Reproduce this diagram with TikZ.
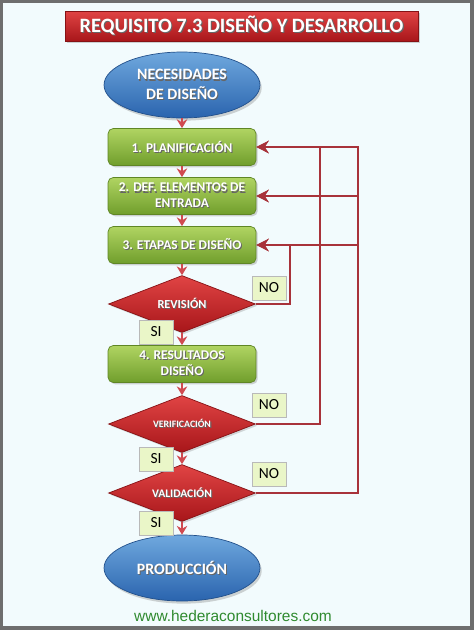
\documentclass[tikz,border=0pt]{standalone}
\usepackage{fontspec}
\setmainfont{Carlito}
\newfontfamily\webfont{Liberation Sans}
\usetikzlibrary{shapes.geometric,arrows.meta,shadows}

\definecolor{bgcyan}{HTML}{F2FBFD}
\definecolor{framegray}{HTML}{6E6E6E}
\definecolor{loopred}{HTML}{A8323A}
\definecolor{flowred}{HTML}{D04A50}
\definecolor{greenL}{HTML}{B0D462}
\definecolor{greenD}{HTML}{709E2C}
\definecolor{blueL}{HTML}{6FA8DE}
\definecolor{blueD}{HTML}{2A64AE}
\definecolor{redL}{HTML}{E04444}
\definecolor{redD}{HTML}{A8161A}
\definecolor{answerfill}{HTML}{EAF6C8}
\definecolor{webgreen}{HTML}{2F8A2F}

% white text with a soft shadow
\newcommand{\shtext}[1]{\makebox[0pt][l]{\hspace{0.6pt}\raisebox{-0.6pt}{\textcolor{black!60}{#1}}}#1}

\begin{document}
\begin{tikzpicture}[x=0.02cm,y=-0.02cm,
  stepbox/.style={rectangle,rounded corners=3pt,minimum width=2.96cm,minimum height=0.74cm,
    inner sep=0pt,top color=greenL,bottom color=greenD,draw=greenD!85!black,text=white,
    align=center,font=\bfseries\fontsize{7.6}{9}\selectfont,
    drop shadow={opacity=0.35,shadow xshift=1pt,shadow yshift=-1pt}},
  endbox/.style={ellipse,minimum width=3.12cm,minimum height=1.32cm,inner sep=0pt,
    top color=blueL,bottom color=blueD,draw=blueD!80!black,text=white,align=center,
    font=\bfseries\fontsize{9}{11}\selectfont,
    drop shadow={opacity=0.35,shadow xshift=1pt,shadow yshift=-1.5pt}},
  checkbox/.style={diamond,aspect=2.58,minimum width=2.94cm,minimum height=1.14cm,inner sep=0pt,
    top color=redL,bottom color=redD,draw=redD!80!black,text=white,
    drop shadow={opacity=0.3,shadow xshift=1pt,shadow yshift=-1pt}},
  answer/.style={rectangle,minimum width=0.68cm,minimum height=0.48cm,inner sep=0pt,
    fill=answerfill,draw=gray!55,font=\fontsize{8.8}{10}\selectfont},
  flow/.style={flowred,line width=1pt,-{Stealth[length=5pt,width=6pt]}},
  loop/.style={loopred,line width=1.4pt,-{Stealth[length=7pt,width=7pt]}}]

\useasboundingbox (0,0) rectangle (474,630);
\fill[framegray] (0,0) rectangle (474,630);
\fill[bgcyan] (3,3) rectangle (470,626);

% title
\node (title) at (241.5,26) [rectangle,minimum width=7.06cm,minimum height=0.6cm,inner sep=0pt,
  top color=redL,bottom color=redD,draw=redD!80!black,text=white,
  font=\bfseries\fontsize{11.6}{13}\selectfont,
  drop shadow={opacity=0.35,shadow xshift=1pt,shadow yshift=-1pt}]
  {\shtext{REQUISITO 7.3 DISEÑO Y DESARROLLO}};

% flow
\node (need) at (182,85) [endbox] {\shtext{NECESIDADES}\\\shtext{DE DISEÑO}};
\node (plan) at (182,147) [stepbox] {\shtext{1. PLANIFICACIÓN}};
\node (input) at (182,196) [stepbox] {\shtext{2. DEF. ELEMENTOS DE}\\\shtext{ENTRADA}};
\node (stages) at (182,245) [stepbox] {\shtext{3. ETAPAS DE DISEÑO}};
\node (review) at (182,304) [checkbox,font=\bfseries\fontsize{7}{8}\selectfont] {\shtext{REVISIÓN}};
\node (result) at (182,364) [stepbox] {\shtext{4. RESULTADOS}\\\shtext{DISEÑO}};
\node (verify) at (182,424) [checkbox,font=\bfseries\fontsize{5.6}{7}\selectfont] {\shtext{VERIFICACIÓN}};
\node (valid) at (182,493) [checkbox,font=\bfseries\fontsize{6.6}{8}\selectfont] {\shtext{VALIDACIÓN}};
\node (prod) at (182,568) [endbox] {\shtext{PRODUCCIÓN}};

\draw[flow] (need) -- (plan);
\draw[flow] (plan) -- (input);
\draw[flow] (input) -- (stages);
\draw[flow] (stages) -- (review);
\draw[flow] (review) -- (result);
\draw[flow] (result) -- (verify);
\draw[flow] (verify) -- (valid);
\draw[flow] (valid) -- (prod);

% answers
\node (reviewno) at (269,288) [answer] {NO};
\node (reviewsi) at (156,332) [answer] {SI};
\node (verifyno) at (269,405) [answer] {NO};
\node (verifysi) at (156,459) [answer] {SI};
\node (validno) at (269,474) [answer] {NO};
\node (validsi) at (156,523) [answer] {SI};

% return lines
\coordinate (colA) at (290,0);
\coordinate (colB) at (320,0);
\coordinate (colC) at (358,0);
\draw[loop] (review.east) -| (colA |- stages.east) -- (stages.east);
\draw[loop] (verify.east) -| (colB |- plan.east) -- (plan.east);
\draw[loop] (colB |- input.east) -- (input.east);
\draw[loop] (valid.east) -| (colC |- plan.east) -- (plan.east);
\draw[loop] (colC |- input.east) -- (input.east);
\draw[loop] (colC |- stages.east) -- (stages.east);

\node (web) at (233,616) [text=webgreen,font=\webfont\fontsize{8.8}{10}\selectfont] {www.hederaconsultores.com};
\end{tikzpicture}
\end{document}
